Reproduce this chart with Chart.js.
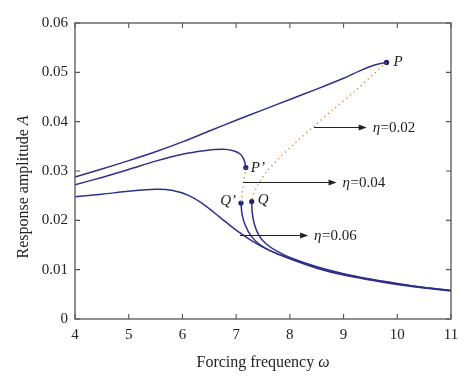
<!DOCTYPE html>
<html>
<head>
<meta charset="utf-8">
<script src="https://cdn.jsdelivr.net/npm/chart.js@4"></script>
<style>
  html, body { margin: 0; padding: 0; background: #fff; }
  #wrap { width: 474px; height: 387px; }
</style>
</head>
<body>
<div id="wrap"><canvas id="grafico" width="474" height="387"></canvas></div>
<script>
// eta = 0.02 : upper branch up to P, unstable (dotted) P -> Q, lower branch from Q
const upper002 = [
  [4.0, 0.0288], [4.5, 0.0304], [5.0, 0.0321], [5.5, 0.0339], [6.0, 0.0359],
  [6.5, 0.0381], [7.0, 0.0403], [7.5, 0.0424], [8.0, 0.0445], [8.5, 0.0466],
  [9.0, 0.0488], [9.3, 0.0503], [9.55, 0.0514], [9.8, 0.0520]
];
const unstable002 = [
  [9.8, 0.0520], [9.2, 0.0461], [8.8, 0.0424], [8.47, 0.0393], [8.1, 0.0357],
  [7.8, 0.0326], [7.55, 0.0296], [7.4, 0.0270], [7.32, 0.0252], [7.29, 0.0238]
];
const lower002 = [
  [7.29, 0.0238], [7.30, 0.0215], [7.34, 0.0192], [7.42, 0.0170], [7.55, 0.0153],
  [7.75, 0.0138], [8.0, 0.0125], [8.5, 0.0106], [9.0, 0.0092], [9.5, 0.0081],
  [10.0, 0.0072], [10.5, 0.0064], [11.0, 0.0058]
];

// eta = 0.04 : upper branch to P', unstable P' -> Q', lower branch from Q'
const upper004 = [
  [4.0, 0.0272], [4.5, 0.0287], [5.0, 0.0303], [5.5, 0.0320], [6.0, 0.0334],
  [6.4, 0.0341], [6.75, 0.0344], [6.95, 0.0341], [7.08, 0.0334], [7.15, 0.0322],
  [7.18, 0.0307]
];
const unstable004 = [
  [7.18, 0.0307], [7.15, 0.0285], [7.12, 0.0262], [7.09, 0.0235]
];
const lower004 = [
  [7.09, 0.0235], [7.11, 0.0212], [7.17, 0.0190], [7.28, 0.0168], [7.45, 0.0150],
  [7.7, 0.0135], [8.0, 0.0123], [8.5, 0.0105], [9.0, 0.0091], [9.5, 0.0080],
  [10.0, 0.0071], [10.5, 0.0064], [11.0, 0.0058]
];

// eta = 0.06 : single valued
const curve006 = [
  [4.0, 0.0248], [4.5, 0.0253], [5.0, 0.0259], [5.5, 0.0263], [5.8, 0.0261],
  [6.1, 0.0251], [6.4, 0.0232], [6.7, 0.0206], [7.0, 0.0180], [7.3, 0.0158],
  [7.6, 0.0140], [8.0, 0.0122], [8.5, 0.0103], [9.0, 0.0089], [9.5, 0.0079],
  [10.0, 0.0070], [10.5, 0.0063], [11.0, 0.0057]
];

// jump points
const markers = [[9.8, 0.0520], [7.18, 0.0307], [7.29, 0.0238], [7.09, 0.0235]];
const markerNames = ["P", "P\u2019", "Q", "Q\u2019"];

// arrows: start x, end x, y, label
const arrowStart = [8.45, 7.13, 7.07];
const arrowEnd = [9.43, 8.87, 8.34];
const arrowY = [0.0390, 0.0277, 0.0170];
const arrowLabels = ["0.02", "0.04", "0.06"];

const xTicks = [4, 5, 6, 7, 8, 9, 10, 11];
const yTicks = [0, 0.01, 0.02, 0.03, 0.04, 0.05, 0.06];

const blue = "#2f2f8c";
const dots = "#d9823b";
const axisCol = "#555";
const serif = "'Liberation Serif', 'DejaVu Serif', serif";

const toPts = arr => arr.map(p => ({ x: p[0], y: p[1] }));

function solid(arr) {
  return { data: toPts(arr), borderColor: blue, borderWidth: 1.5, showLine: true,
           pointRadius: 0, tension: 0.3, fill: false };
}
function dotted(arr) {
  return { data: toPts(arr), borderColor: dots, borderWidth: 1.3, borderDash: [1.3, 3.5],
           showLine: true, pointRadius: 0, tension: 0.3, fill: false };
}

// frame, inward ticks, titles, annotations
const desenho = {
  id: "desenho",
  afterDraw(chart) {
    const { ctx, chartArea: a, scales: { x, y } } = chart;
    ctx.save();
    ctx.strokeStyle = axisCol;
    ctx.lineWidth = 1.3;
    ctx.strokeRect(a.left, a.top, a.right - a.left, a.bottom - a.top);
    ctx.lineWidth = 1.1;
    ctx.beginPath();
    xTicks.forEach(v => {
      const px = x.getPixelForValue(v);
      ctx.moveTo(px, a.bottom); ctx.lineTo(px, a.bottom - 5);
      ctx.moveTo(px, a.top); ctx.lineTo(px, a.top + 5);
    });
    yTicks.forEach(v => {
      const py = y.getPixelForValue(v);
      ctx.moveTo(a.left, py); ctx.lineTo(a.left + 5, py);
      ctx.moveTo(a.right, py); ctx.lineTo(a.right - 5, py);
    });
    ctx.stroke();

    // arrows
    ctx.strokeStyle = "#222";
    ctx.fillStyle = "#222";
    ctx.lineWidth = 1;
    arrowStart.forEach((sx, i) => {
      const x0 = x.getPixelForValue(sx), x1 = x.getPixelForValue(arrowEnd[i]);
      const py = Math.round(y.getPixelForValue(arrowY[i])) + 0.5;
      ctx.beginPath(); ctx.moveTo(x0, py); ctx.lineTo(x1 - 6, py); ctx.stroke();
      ctx.beginPath(); ctx.moveTo(x1, py); ctx.lineTo(x1 - 8, py - 3); ctx.lineTo(x1 - 8, py + 3);
      ctx.closePath(); ctx.fill();
      ctx.textBaseline = "middle";
      ctx.textAlign = "left";
      ctx.font = "italic 15px " + serif;
      const tx = x1 + 6;
      ctx.fillText("\u03b7", tx, py + 1);
      const w = ctx.measureText("\u03b7").width;
      ctx.font = "15px " + serif;
      ctx.fillText("=" + arrowLabels[i], tx + w + 0.5, py + 1);
    });

    // point names
    ctx.fillStyle = "#222";
    ctx.font = "italic 15px " + serif;
    ctx.textBaseline = "middle";
    const offs = [[7, 0], [5, 1], [6, -2], [-5, -2]];
    markers.forEach((m, i) => {
      const px = x.getPixelForValue(m[0]), py = y.getPixelForValue(m[1]);
      ctx.textAlign = i === 3 ? "right" : "left";
      ctx.fillText(markerNames[i], px + offs[i][0], py + offs[i][1]);
    });

    // axis titles with italic symbols
    ctx.fillStyle = "#222";
    ctx.textBaseline = "alphabetic";
    const cx = (a.left + a.right) / 2;
    ctx.font = "16px " + serif;
    const t1 = "Forcing frequency ";
    const w1 = ctx.measureText(t1).width;
    ctx.font = "italic 16px " + serif;
    const w2 = ctx.measureText("\u03c9").width;
    let sx = cx - (w1 + w2) / 2;
    ctx.textAlign = "left";
    ctx.font = "16px " + serif;
    ctx.fillText(t1, sx, 367);
    ctx.font = "italic 16px " + serif;
    ctx.fillText("\u03c9", sx + w1, 367);

    ctx.translate(28, 187);
    ctx.rotate(-Math.PI / 2);
    ctx.font = "16px " + serif;
    const t2 = "Response amplitude ";
    const v1 = ctx.measureText(t2).width;
    ctx.font = "italic 16px " + serif;
    const v2 = ctx.measureText("A").width;
    sx = -(v1 + v2) / 2;
    ctx.font = "16px " + serif;
    ctx.fillText(t2, sx, 0);
    ctx.font = "italic 16px " + serif;
    ctx.fillText("A", sx + v1, 0);
    ctx.restore();
  }
};

new Chart(document.getElementById("grafico"), {
  type: "scatter",
  data: {
    datasets: [
      solid(upper002), dotted(unstable002), solid(lower002),
      solid(upper004), dotted(unstable004), solid(lower004),
      solid(curve006),
      { data: toPts(markers), pointRadius: 2.6, pointBackgroundColor: "#1f1f6e",
        pointBorderWidth: 0, showLine: false }
    ]
  },
  options: {
    responsive: false,
    animation: false,
    layout: { padding: { left: 0, right: 23, top: 23, bottom: 0 } },
    plugins: { legend: { display: false }, tooltip: { enabled: false } },
    scales: {
      x: {
        type: "linear", min: 4, max: 11,
        afterBuildTicks: s => { s.ticks = xTicks.map(v => ({ value: v })); },
        afterFit: s => { s.height = 68; },
        grid: { display: false, drawTicks: false },
        border: { display: false },
        ticks: { color: "#222", font: { family: serif, size: 15 }, padding: 7, maxRotation: 0 }
      },
      y: {
        type: "linear", min: 0, max: 0.06,
        afterBuildTicks: s => { s.ticks = yTicks.map(v => ({ value: v })); },
        afterFit: s => { s.width = 75; },
        grid: { display: false, drawTicks: false },
        border: { display: false },
        ticks: { color: "#222", font: { family: serif, size: 15 }, padding: 7,
                 callback: v => v === 0 ? "0" : v.toFixed(2) }
      }
    }
  },
  plugins: [desenho]
});
</script>
</body>
</html>
